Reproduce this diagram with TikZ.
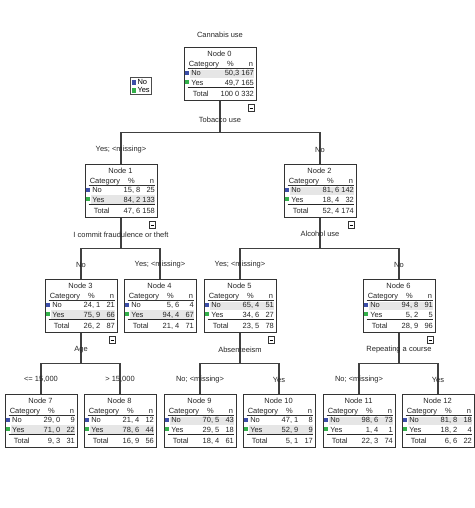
\documentclass[tikz,border=0pt]{standalone}
\usepackage{fontspec}
\setmainfont{Liberation Sans}
\usepackage{xcolor}
\usepackage{tikz}
\usetikzlibrary{positioning}

\definecolor{sqblue}{HTML}{3C4EA8}
\definecolor{sqgreen}{HTML}{33B04A}
\definecolor{hlgray}{HTML}{E6E6E6}

% highlighted row (top edge, in pt below the box top)
\newcommand{\hlNo}{22.6}
\newcommand{\hlYes}{31.2}
\newcommand{\sqr}[1]{\textcolor{#1}{\rule{4pt}{4.5pt}}}

% one tree node: [highlighted row]{position}{number}{No %}{No n}{Yes %}{Yes n}{Total %}{Total n}
\newcommand{\ctbox}[9][No]{%
  \node[tbox, anchor=north] (n#3) at #2 {};
  \begin{scope}[shift={(n#3.north west)}]
    \fill[hlgray] (6.5,\csname hl#1\endcsname) rectangle ++(63.5,8.4);
    \node[txt, anchor=base] (n#3h) at (36,9.7) {Node #3};
    \node[txt, anchor=base west] (n#3c) at (5,19.7) {Category};
    \node[txt, anchor=base] (n#3cp) at (47,19.7) {\%};
    \node[txt, anchor=base] (n#3cn) at (67.5,19.7) {n};
    \draw[rowline] (4,21.6) -- (70,21.6);
    \fill[sqblue] (1.5,23.9) rectangle (5.5,28.4);
    \node[txt, anchor=base west] (n#3a) at (7.5,28.7) {No};
    \node[txt, anchor=base east] (n#3ap) at (56,28.7) {#4};
    \node[txt, anchor=base east] (n#3an) at (70.5,28.7) {#5};
    \fill[sqgreen] (1.5,32.6) rectangle (5.5,37.1);
    \node[txt, anchor=base west] (n#3b) at (7.5,38.2) {Yes};
    \node[txt, anchor=base east] (n#3bp) at (56,38.2) {#6};
    \node[txt, anchor=base east] (n#3bn) at (70.5,38.2) {#7};
    \draw[totline] (4,40.2) -- (70,40.2);
    \node[txt, anchor=base west] (n#3t) at (9,49.7) {Total};
    \node[txt, anchor=base east] (n#3tp) at (56,49.7) {#8};
    \node[txt, anchor=base east] (n#3tn) at (70.5,49.7) {#9};
  \end{scope}}

\begin{document}
\begin{tikzpicture}[
  x=1pt, y=-1pt,
  font=\fontsize{7.5}{8.5}\selectfont,
  txt/.style={inner sep=0pt, text=black!85},
  tbox/.style={draw=black!80, line width=0.9pt, minimum width=72pt,
               minimum height=53pt, inner sep=0pt},
  rowline/.style={draw=black!80, line width=0.5pt},
  totline/.style={draw=black!85, line width=1pt},
  edge/.style={draw=black!75, line width=1.1pt},
  minus/.style={draw=black!80, line width=0.6pt, minimum size=6.5pt, inner sep=0pt}
]
\useasboundingbox (0,0) rectangle (474,508);

\node[txt] (title) at (220,35) {Cannabis use};
\node[draw=black!70, line width=0.6pt, inner sep=1.8pt, align=left,
      font=\fontsize{7.5}{8}\selectfont] (lgd) at (141,86)
  {\sqr{sqblue}\,No\\ \sqr{sqgreen}\,Yes};

% nodes
\ctbox[No]{(220,47)}{0}{50,3}{167}{49,7}{165}{100 0}{332}
\ctbox[Yes]{(121,164)}{1}{15, 8}{25}{84, 2}{133}{47, 6}{158}
\ctbox[No]{(320,164)}{2}{81, 6}{142}{18, 4}{32}{52, 4}{174}
\ctbox[Yes]{(81,279)}{3}{24, 1}{21}{75, 9}{66}{26, 2}{87}
\ctbox[Yes]{(160,279)}{4}{5, 6}{4}{94, 4}{67}{21, 4}{71}
\ctbox[No]{(240,279)}{5}{65, 4}{51}{34, 6}{27}{23, 5}{78}
\ctbox[No]{(399,279)}{6}{94, 8}{91}{5, 2}{5}{28, 9}{96}
\ctbox[Yes]{(41,394)}{7}{29, 0}{9}{71, 0}{22}{9, 3}{31}
\ctbox[Yes]{(120,394)}{8}{21, 4}{12}{78, 6}{44}{16, 9}{56}
\ctbox[No]{(200,394)}{9}{70, 5}{43}{29, 5}{18}{18, 4}{61}
\ctbox[Yes]{(279,394)}{10}{47, 1}{8}{52, 9}{9}{5, 1}{17}
\ctbox[No]{(359,394)}{11}{98, 6}{73}{1, 4}{1}{22, 3}{74}
\ctbox[No]{(438,394)}{12}{81, 8}{18}{18, 2}{4}{6, 6}{22}

% collapse buttons
\foreach \k in {0,1,2,3,5,6}
  \node[minus] (m\k) at ([xshift=-5pt,yshift=-7pt]n\k.south east) {\rule{3.6pt}{0.7pt}};

% splits
\draw[edge] (n0.south) -- ++(0,32) coordinate (j0);
\draw[edge] (n1.north) |- (j0) -| (n2.north);
\draw[edge] (n1.south) -- ++(0,31) coordinate (j1);
\draw[edge] (n3.north) |- (j1) -| (n4.north);
\draw[edge] (n2.south) -- ++(0,31) coordinate (j2);
\draw[edge] (n5.north) |- (j2) -| (n6.north);
\draw[edge] (n3.south) -- ++(0,31) coordinate (j3);
\draw[edge] (n7.north) |- (j3) -| (n8.north);
\draw[edge] (n5.south) -- ++(0,31) coordinate (j5);
\draw[edge] (n9.north) |- (j5) -| (n10.north);
\draw[edge] (n6.south) -- ++(0,31) coordinate (j6);
\draw[edge] (n11.north) |- (j6) -| (n12.north);

% split and branch labels
\node[txt] (s0) at ([yshift=-19pt]n0.south) {Tobacco use};
\node[txt] (s1) at ([yshift=-17pt]n1.south) {I commit fraudulence or theft};
\node[txt] (s2) at ([yshift=-16pt]n2.south) {Alcohol use};
\node[txt] (s3) at ([yshift=-17pt]n3.south) {Age};
\node[txt] (s5) at ([yshift=-17pt]n5.south) {Absenteeism};
\node[txt] (s6) at ([yshift=-17pt]n6.south) {Repeating a course};
\node[txt] (b1) at ([yshift=14.5pt]n1.north) {Yes; <missing>};
\node[txt] (b2) at ([yshift=14.5pt]n2.north) {No};
\node[txt] (b3) at ([yshift=14.5pt]n3.north) {No};
\node[txt] (b4) at ([yshift=14.5pt]n4.north) {Yes; <missing>};
\node[txt] (b5) at ([yshift=14.5pt]n5.north) {Yes; <missing>};
\node[txt] (b6) at ([yshift=14.5pt]n6.north) {No};
\node[txt] (b7) at ([yshift=14.5pt]n7.north) {<= 15,000};
\node[txt] (b8) at ([yshift=14.5pt]n8.north) {> 15,000};
\node[txt] (b9) at ([yshift=14.5pt]n9.north) {No; <missing>};
\node[txt] (b10) at ([yshift=14.5pt]n10.north) {Yes};
\node[txt] (b11) at ([yshift=14.5pt]n11.north) {No; <missing>};
\node[txt] (b12) at ([yshift=14.5pt]n12.north) {Yes};
\end{tikzpicture}
\end{document}
